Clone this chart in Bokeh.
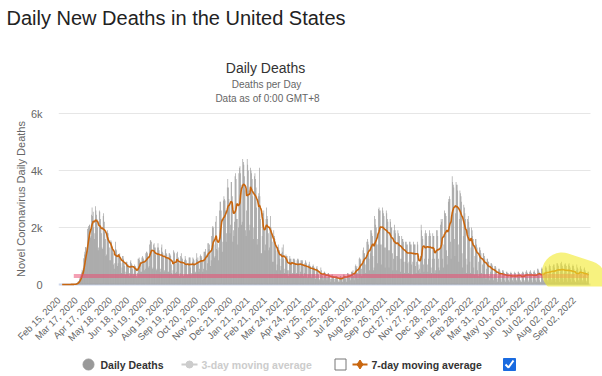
import numpy as np
import pandas as pd
from math import pi
from bokeh.plotting import figure
from bokeh.layouts import column
from bokeh.models import Range1d, FixedTicker, Title
from bokeh.core.properties import value
from bokeh.embed import file_html
from bokeh.resources import INLINE

# ---------------- data ----------------
start_date = "2020-02-15"

# daily reported deaths, weekly rows (Sat..Fri)
deaths_2020 = [
    0, 0, 0, 0, 0, 0, 0,
    0, 0, 0, 0, 0, 0, 0,
    1, 0, 1, 5, 3, 2, 1,
    3, 4, 4, 5, 8, 7, 10,
    8, 12, 18, 23, 40, 55, 80,
    110, 120, 180, 240, 280, 340, 420,
    520, 480, 580, 920, 1050, 1150, 1320,
    1300, 1180, 1300, 1950, 1990, 2050, 2100,
    2100, 1650, 1700, 2450, 2700, 2400, 2550,
    2000, 1600, 1800, 2750, 2600, 2450, 2300,
    2000, 1200, 1300, 2600, 2550, 2300, 2000,
    1800, 1300, 1250, 2400, 2500, 2200, 1850,
    1600, 1000, 1050, 1800, 1900, 1800, 1650,
    1300, 850, 850, 1550, 1500, 1350, 1300,
    1100, 700, 550, 750, 1500, 1250, 1200,
    950, 650, 750, 1050, 1050, 1100, 950,
    750, 400, 600, 1000, 1000, 900, 800,
    650, 350, 450, 800, 800, 700, 700,
    600, 300, 400, 800, 850, 750, 700,
    550, 300, 380, 650, 700, 650, 600,
    300, 250, 400, 900, 900, 950, 850,
    800, 450, 450, 950, 1000, 950, 900,
    850, 500, 550, 1100, 1150, 1150, 1100,
    1000, 600, 650, 1400, 1550, 1550, 1500,
    1150, 550, 600, 1400, 1450, 1300, 1300,
    1050, 500, 550, 1300, 1450, 1300, 1200,
    1000, 450, 550, 1300, 1400, 1150, 1100,
    1000, 450, 500, 1200, 1250, 1100, 1050,
    950, 450, 450, 1100, 1100, 1050, 1000,
    700, 400, 350, 500, 1200, 1150, 1100,
    750, 400, 450, 1100, 1150, 900, 950,
    750, 300, 400, 1000, 1100, 950, 900,
    700, 300, 350, 850, 1000, 900, 850,
    700, 350, 350, 750, 950, 950, 950,
    600, 350, 400, 800, 950, 900, 850,
    700, 400, 450, 900, 1100, 850, 950,
    800, 450, 550, 1000, 1050, 1000, 950,
    850, 450, 550, 1150, 1150, 1150, 1250,
    1050, 500, 750, 1450, 1450, 1250, 1400,
    1200, 650, 850, 1700, 2000, 2050, 2000,
    1400, 950, 1000, 2200, 2400, 1250, 1450,
    1200, 850, 1300, 2600, 2900, 2900, 2600,
    2300, 1150, 1500, 2950, 3100, 3000, 2950,
    2600, 1500, 1800, 3400, 3700, 3400, 3000,
    2800, 1800, 2100, 3600, 3600, 3100, 1500,
    1900, 1700, 2200, 3800, 3900, 3700,
]

deaths_2021 = [
    2300,
    2300, 1400, 2000, 3900, 4100, 4150, 3900,
    3500, 2100, 2200, 4400, 4300, 4200, 3800,
    3300, 1900, 1700, 2600, 4400, 4200, 4000,
    3300, 1900, 2100, 4100, 4000, 3900, 3700,
    3100, 1600, 2000, 3800, 3900, 3700, 3400,
    2700, 1400, 1600, 3100, 3200, 4100, 3100,
    2300, 1100, 1100, 1700, 2500, 2500, 2600,
    1900, 1200, 1400, 2300, 2700, 2400, 2300,
    1800, 1200, 1300, 2000, 2400, 2000, 1900,
    1500, 800, 800, 1900, 1700, 1600, 1500,
    1200, 500, 700, 1300, 1400, 1300, 1200,
    900, 500, 650, 1100, 1300, 1150, 1400,
    900, 400, 550, 950, 1050, 1000, 1000,
    500, 300, 500, 900, 1000, 900, 900,
    800, 350, 400, 900, 900, 900, 850,
    700, 350, 400, 850, 900, 900, 850,
    750, 300, 450, 850, 850, 800, 850,
    650, 300, 400, 750, 850, 800, 750,
    600, 250, 350, 700, 800, 700, 650,
    550, 250, 350, 650, 700, 650, 600,
    500, 200, 300, 600, 650, 550, 500,
    350, 200, 150, 350, 600, 500, 400,
    300, 150, 250, 450, 450, 400, 350,
    250, 150, 250, 400, 400, 350, 300,
    200, 100, 200, 350, 350, 300, 300,
    200, 100, 200, 300, 300, 300, 250,
    150, 100, 100, 250, 300, 300, 250,
    200, 100, 250, 350, 350, 300, 300,
    200, 100, 250, 400, 400, 350, 350,
    250, 150, 300, 450, 450, 450, 500,
    300, 150, 400, 650, 700, 600, 650,
    400, 200, 500, 900, 950, 850, 900,
    550, 300, 700, 1200, 1300, 1100, 1100,
    700, 400, 950, 1500, 1600, 1500, 1400,
    900, 500, 1100, 1900, 1900, 1800, 1700,
    1000, 500, 600, 2400, 2300, 2100, 2000,
    1400, 750, 1400, 2650, 2700, 2600, 2600,
    1400, 700, 1400, 2700, 2600, 2500, 2400,
    1300, 600, 1300, 2600, 2500, 2300, 2200,
    1200, 600, 1200, 2300, 2200, 2000, 2000,
    1100, 500, 900, 1900, 2100, 1900, 1800,
    1000, 500, 1000, 1900, 1800, 1700, 1700,
    900, 450, 900, 1700, 1600, 1600, 1500,
    800, 400, 800, 1500, 1500, 1400, 1400,
    750, 400, 800, 1500, 1500, 1400, 1400,
    700, 350, 800, 1500, 1400, 1400, 1400,
    650, 400, 800, 1500, 1400, 500, 700,
    550, 400, 1000, 2100, 1900, 1700, 1600,
    700, 450, 900, 1800, 1900, 1700, 1800,
    700, 450, 900, 1700, 1900, 1800, 1700,
    600, 400, 900, 1800, 1700, 1700, 900,
    400, 500, 1200, 1900, 1900, 1700, 900,
]

deaths_2022 = [
    600, 500, 1300, 2100, 2300, 2200, 2300,
    900, 600, 1400, 2600, 2500, 2500, 2400,
    1200, 700, 1000, 2900, 3000, 3100, 3000,
    1500, 900, 2200, 3800, 3600, 3500, 3400,
    1600, 1000, 2500, 3600, 3500, 3500, 3300,
    1400, 800, 2300, 3300, 3200, 3100, 2900,
    1100, 600, 1700, 2800, 2700, 2500, 2300,
    900, 400, 700, 2300, 2400, 2200, 2000,
    800, 400, 1300, 2000, 1900, 1700, 1600,
    600, 350, 1000, 1600, 1600, 1400, 1300,
    500, 300, 800, 1300, 1300, 1200, 1100,
    400, 250, 700, 1100, 1100, 1000, 900,
    350, 200, 550, 900, 900, 800, 800,
    300, 150, 450, 750, 750, 700, 650,
    250, 150, 350, 650, 650, 600, 450,
    200, 100, 300, 550, 550, 500, 450,
    180, 100, 300, 500, 500, 450, 400,
    150, 100, 250, 450, 450, 400, 400,
    150, 100, 250, 400, 450, 400, 350,
    150, 100, 250, 400, 450, 400, 350,
    150, 100, 300, 450, 450, 400, 350,
    150, 100, 100, 400, 450, 450, 400,
    150, 100, 300, 450, 500, 450, 400,
    150, 100, 300, 450, 500, 450, 400,
    150, 80, 250, 450, 500, 450, 400,
    150, 100, 300, 550, 550, 500, 450,
    150, 80, 100, 550, 600, 550, 450,
    150, 100, 350, 600, 650, 600, 500,
    150, 100, 350, 650, 700, 650, 550,
    180, 100, 400, 650, 700, 700, 600,
    200, 100, 450, 750, 750, 700, 650,
    200, 100, 450, 750, 800, 700, 650,
    200, 100, 400, 700, 750, 700, 650,
    180, 100, 400, 700, 750, 650, 600,
    180, 100, 350, 650, 700, 650, 550,
    150, 100, 100, 500, 700, 600, 550,
    150, 80, 350, 600, 650, 550, 500,
    150, 80, 300, 550, 600, 500, 450,
    130, 70, 250, 450, 450,
]

x_tick_labels = [
    "Feb 15, 2020", "Mar 17, 2020", "Apr 17, 2020", "May 18, 2020", "Jun 18, 2020",
    "Jul 19, 2020", "Aug 19, 2020", "Sep 19, 2020", "Oct 20, 2020", "Nov 20, 2020",
    "Dec 21, 2020", "Jan 21, 2021", "Feb 21, 2021", "Mar 24, 2021", "Apr 24, 2021",
    "May 25, 2021", "Jun 25, 2021", "Jul 26, 2021", "Aug 26, 2021", "Sep 26, 2021",
    "Oct 27, 2021", "Nov 27, 2021", "Dec 28, 2021", "Jan 28, 2022", "Feb 28, 2022",
    "Mar 31, 2022", "May 01, 2022", "Jun 01, 2022", "Jul 02, 2022", "Aug 02, 2022",
    "Sep 02, 2022",
]
y_ticks = [0, 2000, 4000, 6000]
y_tick_labels = ["0", "2k", "4k", "6k"]

reference_level = 300          # pink horizontal marker
reference_start = "2020-03-13"
highlight_from = ("2022-08-11", 420)   # yellow marker (date, deaths)
highlight_to = ("2022-09-24", 140)

legend_labels = ["Daily Deaths", "3-day moving average", "7-day moving average"]

# ---------------- derived ----------------
daily = deaths_2020 + deaths_2021 + deaths_2022
n = len(daily)
idx = np.arange(n)
avg7 = pd.Series(daily, dtype=float).rolling(7, min_periods=7).mean()
t0 = pd.Timestamp(start_date)

def day(s):
    return (pd.Timestamp(s) - t0).days

tick_pos = [day(pd.to_datetime(s, format="%b %d, %Y")) for s in x_tick_labels]

W = 602
FL, FW = 58, 544                 # frame left / width shared by all three parts
TOP_H, TOP_T = 107, 29           # header height, header frame top (title panel above)
FT, FH, BOT_B = 4, 175, 60       # main chart
LEG_H = 376 - TOP_H - (FT + FH + BOT_B)

GRAY_TXT = "#666666"
FONT = "Liberation Sans"
ORANGE = "#c9660e"

def strip(h, top_border=0):
    f = figure(frame_width=FW, frame_height=h - top_border, min_border_left=FL,
               min_border_right=0, min_border_top=top_border, min_border_bottom=0,
               x_range=Range1d(FL, FL + FW), y_range=Range1d(h, top_border),
               x_axis_location=None, y_axis_location=None,
               output_backend="svg", toolbar_location=None, title=None)
    f.grid.visible = False
    f.outline_line_color = None
    return f

def head(fig, x, y, s, size, color, align="left", style="normal", baseline="alphabetic", font=FONT):
    fig.text(x=[x], y=[y], text=[s], text_font=value(font), text_font_size=value(f"{size}px"),
             text_color=color, text_align=align, text_baseline=baseline,
             text_font_style=style)

# ---------------- header (titles) ----------------
top = strip(TOP_H, TOP_T)
top.add_layout(Title(text="Daily New Deaths in the United States", align="left",
                     offset=6 - FL, standoff=2, text_font=FONT, text_font_size="20px",
                     text_font_style="normal", text_color="#222222"), "above")
head(top, 265, 67, "Daily Deaths", 14, "#333333", align="center")
head(top, 266, 84, "Deaths per Day", 10, GRAY_TXT, align="center")
head(top, 267, 98, "Data as of 0:00 GMT+8", 10, GRAY_TXT, align="center")

# ---------------- main chart ----------------
PX_PER_DAY = 0.554
x0 = -0.6
x1 = x0 + FW / PX_PER_DAY
dpp = 2000 / 57.0
y0 = -2 * dpp
y1 = 6000 + 2 * dpp

def X(px):
    return x0 + (px - FL) / PX_PER_DAY

p = figure(frame_width=FW, frame_height=FH, min_border_left=FL, min_border_right=0,
           min_border_top=FT, min_border_bottom=BOT_B,
           x_range=Range1d(x0, x1), y_range=Range1d(y0, y1),
           output_backend="svg", toolbar_location=None, title=None)
p.outline_line_color = None
p.xgrid.visible = False
p.ygrid.visible = False

p.xaxis.ticker = FixedTicker(ticks=tick_pos)
p.xaxis.major_label_overrides = {t: s for t, s in zip(tick_pos, x_tick_labels)}
p.xaxis.major_label_orientation = pi / 4
p.xaxis.major_label_text_font = FONT
p.xaxis.major_label_text_font_size = "9.5px"
p.xaxis.major_label_text_color = GRAY_TXT
p.xaxis.major_label_standoff = 6
p.xaxis.axis_line_color = None
p.xaxis.major_tick_line_color = None
p.xaxis.minor_tick_line_color = None

p.yaxis.ticker = FixedTicker(ticks=y_ticks)
p.yaxis.major_label_overrides = {t: s for t, s in zip(y_ticks, y_tick_labels)}
p.yaxis.major_label_text_font = FONT
p.yaxis.major_label_text_font_size = "11px"
p.yaxis.major_label_text_color = GRAY_TXT
p.yaxis.major_label_standoff = 10
p.yaxis.axis_line_color = None
p.yaxis.major_tick_line_color = None
p.yaxis.minor_tick_line_color = None
p.yaxis.axis_label = "Novel Coronavirus Daily Deaths"
p.yaxis.axis_label_text_font = FONT
p.yaxis.axis_label_text_font_size = "11px"
p.yaxis.axis_label_text_font_style = "normal"
p.yaxis.axis_label_text_color = GRAY_TXT
p.yaxis.axis_label_standoff = 1

grid_vals = y_ticks[1:]
p.segment(x0=[X(FL)] * len(grid_vals), y0=grid_vals, x1=[X(590)] * len(grid_vals),
          y1=grid_vals, line_color="#e6e6e6", line_width=1)
p.segment(x0=[X(FL)], y0=[0], x1=[X(590)], y1=[0], line_color="#ccd6eb", line_width=2)

p.vbar(x=idx, top=daily, width=1.15, bottom=0, fill_color="#999999", line_color=None)
p.line(idx, avg7, line_color=ORANGE, line_width=1.6)

p.line([day(reference_start), n - 1], [reference_level, reference_level],
       line_color="#ea4c71", line_alpha=0.53, line_width=4)

p.line([day(highlight_from[0]), day(highlight_to[0])], [highlight_from[1], highlight_to[1]],
       line_color="#f2ea2a", line_alpha=0.6, line_width=40, line_cap="round")

# ---------------- legend strip ----------------
leg = strip(LEG_H)
LY = 15
leg.scatter(x=[88], y=[LY], size=11, marker="circle", color="#999999")
head(leg, 100, LY, legend_labels[0], 10.5, "#333333", style="bold", baseline="middle")
leg.segment(x0=[181], y0=[LY], x1=[197], y1=[LY], line_color="#cccccc", line_width=2)
leg.scatter(x=[189], y=[LY], size=7, marker="circle", color="#cccccc")
head(leg, 201, LY, legend_labels[1], 10.5, "#cccccc", style="bold", baseline="middle")
leg.rect(x=[340], y=[LY], width=11, height=11, fill_color="white", line_color="#767676", line_width=1)
leg.segment(x0=[352], y0=[LY], x1=[367], y1=[LY], line_color=ORANGE, line_width=2)
leg.scatter(x=[359.5], y=[LY], size=9, marker="diamond", color=ORANGE)
head(leg, 371, LY, legend_labels[2], 10.5, "#333333", style="bold", baseline="middle")
leg.rect(x=[509], y=[LY], width=12, height=12, fill_color="#1a6be0", line_color="#1a6be0")
leg.line(x=[505, 508, 513], y=[LY, LY + 3, LY - 4], line_color="white", line_width=2)

layout = column(top, p, leg, spacing=0)
open("out.html", "w").write(file_html(layout, INLINE))
